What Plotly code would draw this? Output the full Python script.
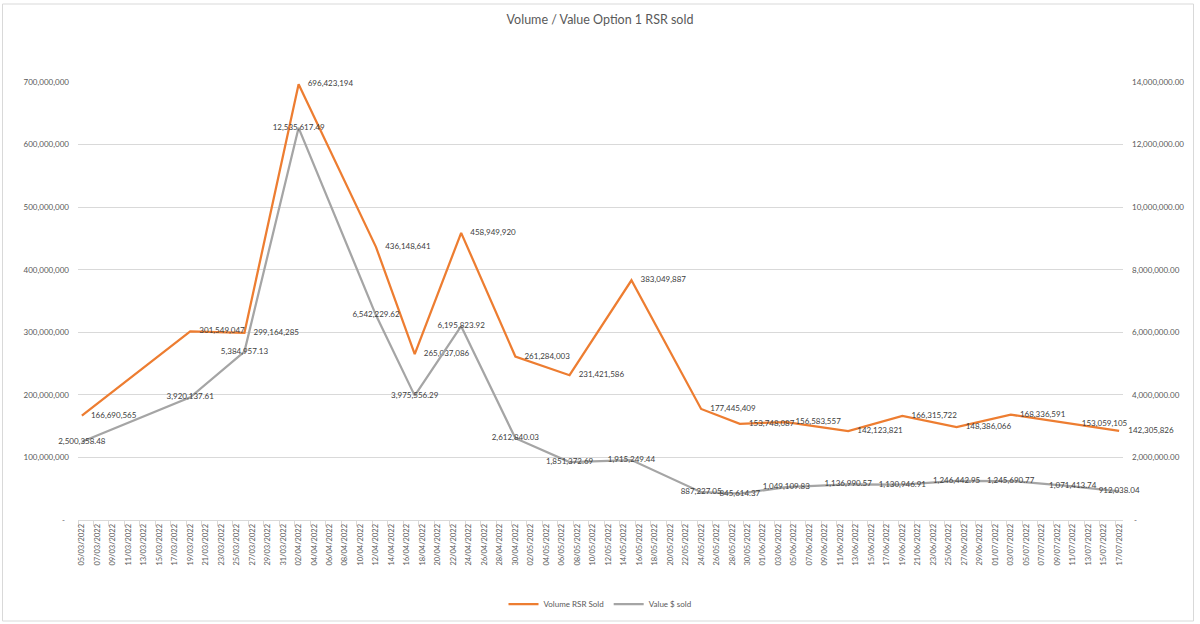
import plotly.graph_objects as go

# ---- data ----
dates = ["2022-03-05", "2022-03-19", "2022-03-26", "2022-04-02", "2022-04-12",
         "2022-04-17", "2022-04-23", "2022-04-30", "2022-05-07", "2022-05-15",
         "2022-05-24", "2022-05-29", "2022-06-04", "2022-06-12", "2022-06-19",
         "2022-06-26", "2022-07-03", "2022-07-11", "2022-07-17"]
volume_rsr = [166690565, 301549047, 299164285, 696423194, 436148641,
              265037086, 458949920, 261284003, 231421586, 383049887,
              177445409, 153748087, 156583557, 142123821, 166315722,
              148386066, 168336591, 153059105, 142305826]
value_usd = [2500358.48, 3920137.61, 5384957.13, 12535617.49, 6542229.62,
             3975556.29, 6195823.92, 2612840.03, 1851372.69, 1915249.44,
             887227.05, 845614.37, 1049109.83, 1136990.57, 1130946.91,
             1246442.95, 1245690.77, 1071413.74, 912038.04]
left_tickvals = [0, 100e6, 200e6, 300e6, 400e6, 500e6, 600e6, 700e6]
left_ticktext = ["-  ", "100,000,000", "200,000,000", "300,000,000", "400,000,000",
                 "500,000,000", "600,000,000", "700,000,000"]
right_tickvals = [0, 2e6, 4e6, 6e6, 8e6, 10e6, 12e6, 14e6]
right_ticktext = [" -", "2,000,000.00", "4,000,000.00", "6,000,000.00", "8,000,000.00",
                  "10,000,000.00", "12,000,000.00", "14,000,000.00"]

ORANGE = "#ED7D31"
GRAY = "#A5A5A5"
FONT = "Lato"
AXIS_TXT = "#595959"
LABEL_TXT = "#404040"

fig = go.Figure()

fig.add_trace(go.Scatter(
    x=dates, y=volume_rsr, mode="lines+markers+text",
    line=dict(color=ORANGE, width=2.25),
    marker=dict(size=13, color="rgba(0,0,0,0)"),
    text=[f"{v:,.0f}" for v in volume_rsr], textposition="middle right",
    textfont=dict(family=FONT, size=8, color=LABEL_TXT),
    showlegend=False, yaxis="y", cliponaxis=False,
))
fig.add_trace(go.Scatter(
    x=dates, y=value_usd, mode="lines+text",
    line=dict(color=GRAY, width=2.25),
    text=[f"{v:,.2f}" for v in value_usd], textposition="middle center",
    textfont=dict(family=FONT, size=8, color=LABEL_TXT),
    showlegend=False, yaxis="y2", cliponaxis=False,
))
# legend entries
fig.add_trace(go.Scatter(x=[None], y=[None], mode="lines", name="Volume RSR Sold",
                         line=dict(color=ORANGE, width=2.25)))
fig.add_trace(go.Scatter(x=[None], y=[None], mode="lines", name="Value $ sold",
                         line=dict(color=GRAY, width=2.25), yaxis="y2"))

DAY = 86400000
fig.update_layout(
    width=1200, height=624,
    margin=dict(l=78, r=77, t=82, b=104, autoexpand=False),
    paper_bgcolor="white", plot_bgcolor="white",
    font=dict(family=FONT, color=AXIS_TXT, size=8),
    title=dict(text="Volume / Value Option 1 RSR sold", x=0.5, xref="container",
               xanchor="center", y=1 - 20 / 624, yref="container", yanchor="middle",
               font=dict(family=FONT, size=12.5, color=AXIS_TXT)),
    xaxis=dict(
        type="date", range=["2022-03-04 12:00", "2022-07-17 12:00"],
        tick0="2022-03-05", dtick=2 * DAY, tickformat="%d/%m/%Y", tickangle=-90,
        tickfont=dict(family=FONT, size=7.5, color=AXIS_TXT),
        showgrid=False, showline=True, linecolor="#d9d9d9", linewidth=1,
        ticks="", zeroline=False,
        minor=dict(tick0="2022-03-04 12:00", dtick=2 * DAY, ticks="outside",
                   ticklen=5, tickcolor="#d9d9d9", showgrid=False),
    ),
    yaxis=dict(
        range=[0, 700e6], tickvals=left_tickvals, ticktext=left_ticktext,
        showgrid=True, gridcolor="#d9d9d9", gridwidth=1, zeroline=False,
        ticks="", ticklabelstandoff=8, tickfont=dict(family=FONT, size=8, color=AXIS_TXT),
    ),
    yaxis2=dict(
        range=[0, 14e6], tickvals=right_tickvals, ticktext=right_ticktext,
        overlaying="y", side="right", showgrid=False, zeroline=False,
        ticks="", ticklabelstandoff=8, tickfont=dict(family=FONT, size=8, color=AXIS_TXT),
    ),
    legend=dict(orientation="h", xref="container", x=0.5, xanchor="center",
                yref="container", y=1 - 604 / 624, yanchor="middle",
                font=dict(family=FONT, size=8, color=AXIS_TXT),
                bgcolor="rgba(0,0,0,0)"),
    shapes=[dict(type="rect", xref="paper", yref="paper",
                 x0=(2.5 - 78) / 1045, x1=(1193.5 - 78) / 1045,
                 y0=(520 - 621) / 438, y1=(520 - 4) / 438,
                 line=dict(color="#d9d9d9", width=1), layer="below")],
)

fig.write_html("out.html")
